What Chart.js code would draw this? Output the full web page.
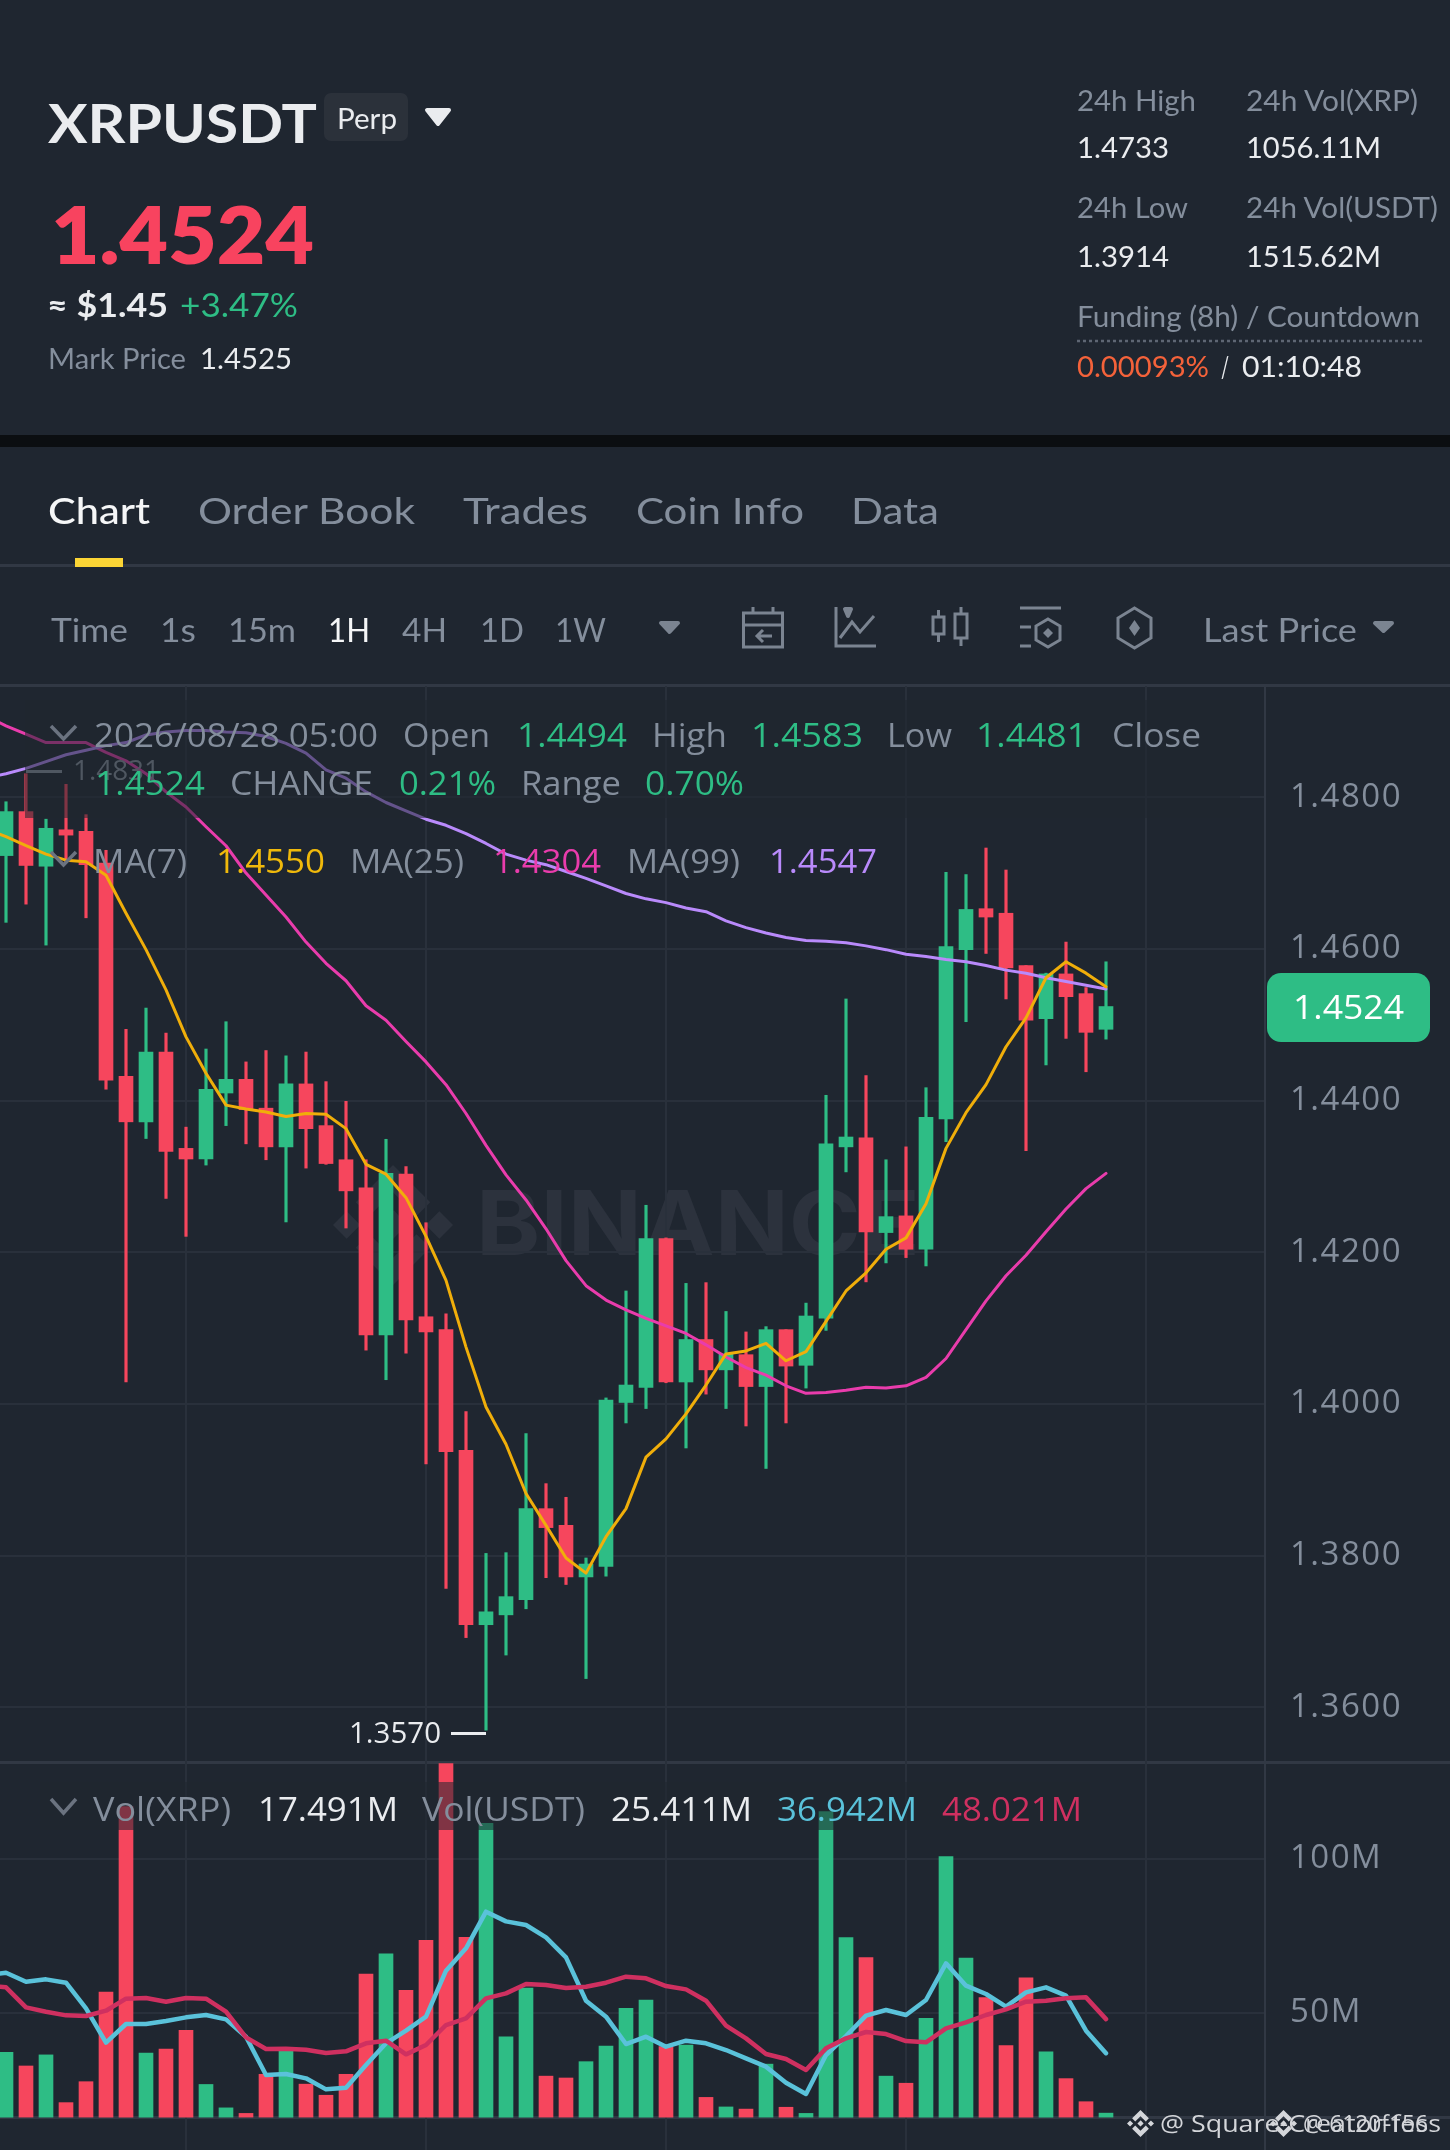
<!DOCTYPE html>
<html>
<head>
<meta charset="utf-8">
<style>
html,body{margin:0;padding:0;background:#1F2630;width:1450px;height:2150px;overflow:hidden}
#under,#over{position:absolute;left:0;top:0;width:1450px;height:2150px}
#over{z-index:5}
#under{z-index:1}
canvas{position:absolute;left:0;z-index:3}
#priceCanvas{top:686px}
#volCanvas{top:1762px}
</style>
<script src="https://cdn.jsdelivr.net/npm/chart.js@4"></script>
</head>
<body>
<svg id="under" viewBox="0 0 1450 2150" xmlns="http://www.w3.org/2000/svg"></svg>
<canvas id="priceCanvas" width="1450" height="1076"></canvas>
<canvas id="volCanvas" width="1450" height="388"></canvas>
<svg id="over" viewBox="0 0 1450 2150" xmlns="http://www.w3.org/2000/svg"></svg>
<script>
const opens = [1.4723,1.4781,1.4709,1.4757,1.4755,1.4713,1.4432,1.4372,1.4464,1.4337,1.4323,1.4410,1.4428,1.4390,1.4339,1.4422,1.4367,1.4322,1.4285,1.4091,1.4303,1.4115,1.4098,1.3939,1.3709,1.3722,1.3742,1.3862,1.3840,1.3772,1.3786,1.4002,1.4022,1.4218,1.4029,1.4085,1.4045,1.4065,1.4023,1.4098,1.4051,1.4113,1.4339,1.4351,1.4226,1.4248,1.4204,1.4376,1.4599,1.4653,1.4647,1.4578,1.4508,1.4567,1.4541,1.4494];
const highs = [1.4794,1.4831,1.4771,1.4817,1.4777,1.4730,1.4494,1.4522,1.4489,1.4365,1.4468,1.4504,1.4451,1.4466,1.4459,1.4464,1.4425,1.4399,1.4322,1.4349,1.4313,1.4239,1.4119,1.3990,1.3803,1.3804,1.3961,1.3895,1.3877,1.3797,1.4008,1.4149,1.4262,1.4219,1.4159,1.4160,1.4122,1.4095,1.4102,1.4098,1.4133,1.4407,1.4534,1.4433,1.4322,1.4339,1.4417,1.4701,1.4698,1.4733,1.4704,1.4578,1.4568,1.4609,1.4549,1.4583];
const lows = [1.4635,1.4659,1.4605,1.4715,1.4641,1.4415,1.4029,1.4350,1.4271,1.4221,1.4315,1.4367,1.4343,1.4322,1.4240,1.4311,1.4316,1.4232,1.4071,1.4032,1.4067,1.3921,1.3757,1.3692,1.3570,1.3669,1.3730,1.3771,1.3762,1.3638,1.3773,1.3975,1.3994,1.4028,1.3942,1.4013,1.3994,1.3971,1.3915,1.3975,1.4021,1.4097,1.4306,1.4161,1.4186,1.4193,1.4182,1.4346,1.4504,1.4594,1.4534,1.4334,1.4447,1.4482,1.4438,1.4481];
const closes = [1.4781,1.4710,1.4759,1.4750,1.4711,1.4427,1.4372,1.4464,1.4333,1.4323,1.4415,1.4428,1.4388,1.4339,1.4422,1.4363,1.4317,1.4281,1.4091,1.4304,1.4111,1.4095,1.3937,1.3709,1.3726,1.3746,1.3862,1.3837,1.3772,1.3789,1.4005,1.4025,1.4218,1.4029,1.4085,1.4045,1.4066,1.4023,1.4098,1.4050,1.4116,1.4343,1.4352,1.4227,1.4247,1.4204,1.4378,1.4603,1.4652,1.4642,1.4575,1.4506,1.4567,1.4537,1.4490,1.4524];
/* moving averages carry one extra leading value, for the candle just left of the picture */
const ma7 = [1.4758,1.4748,1.4736,1.4725,1.4717,1.4715,1.4697,1.4647,1.4599,1.4546,1.4484,1.4436,1.4394,1.4389,1.4385,1.4379,1.4383,1.4382,1.4363,1.4316,1.4303,1.4272,1.4221,1.4163,1.4075,1.3996,1.3947,1.3882,1.3840,1.3797,1.3777,1.3825,1.3862,1.3930,1.3954,1.3987,1.4025,1.4066,1.4070,1.4080,1.4057,1.4069,1.4109,1.4149,1.4173,1.4204,1.4219,1.4264,1.4337,1.4384,1.4421,1.4471,1.4509,1.4562,1.4583,1.4568,1.4550];
const ma25 = [1.4907,1.4894,1.4883,1.4872,1.4872,1.4872,1.4859,1.4848,1.4831,1.4807,1.4787,1.4761,1.4736,1.4700,1.4671,1.4642,1.4609,1.4581,1.4558,1.4525,1.4506,1.4478,1.4451,1.4421,1.4383,1.4341,1.4302,1.4269,1.4231,1.4189,1.4156,1.4137,1.4124,1.4113,1.4103,1.4093,1.4078,1.4062,1.4048,1.4038,1.4024,1.4014,1.4015,1.4018,1.4022,1.4021,1.4024,1.4035,1.4060,1.4098,1.4136,1.4169,1.4196,1.4227,1.4257,1.4284,1.4304];
const ma99 = [1.4825,1.4831,1.4838,1.4847,1.4856,1.4862,1.4868,1.4872,1.4882,1.4886,1.4888,1.4888,1.4886,1.4885,1.4880,1.4871,1.4858,1.4836,1.4825,1.4807,1.4793,1.4782,1.4771,1.4763,1.4752,1.4739,1.4725,1.4717,1.4711,1.4702,1.4693,1.4683,1.4673,1.4666,1.4661,1.4654,1.4649,1.4637,1.4628,1.4621,1.4615,1.4611,1.4610,1.4608,1.4604,1.4599,1.4593,1.4590,1.4586,1.4583,1.4578,1.4572,1.4568,1.4562,1.4557,1.4552,1.4547];
const volumes = [37.2,32.8,36.4,20.9,27.7,56.8,117,37.0,38.3,44.4,26.8,19.2,17.4,30.1,38.0,26.9,23.3,30.1,62.6,69.2,57.4,73.6,131,74.6,111.6,42.3,58.1,29.5,28.9,34.2,39.3,51.5,54.2,39.1,39.6,22.6,19.5,18.8,33.4,19.4,17.4,115.4,74.5,68.0,29.5,27.2,48.3,100.8,67.8,55.0,39.4,61.4,37.4,28.7,21.2,17.491];
const volMaShort = [62.3,63.09,60.17,60.93,59.85,51.51,40.37,46.43,46.43,47.40,48.59,49.35,47.94,42.31,29.87,30.19,28.79,25.21,25.75,33.11,40.15,44.26,48.81,63.74,70.99,82.90,79.76,78.57,74.56,68.07,54.0,48.81,39.93,42.31,39.07,41.01,40.15,37.98,35.28,32.57,27.38,23.7,36.36,42.53,49.13,50.97,49.35,54.22,66.12,58.87,56.17,52.05,56.71,58.33,55.62,44.26,36.942];
const volMaLong = [59.09,58.33,51.84,50.43,49.24,49.02,50.75,54.65,54.87,53.68,54.87,54.65,50.43,42.1,38.31,38.42,38.09,37.01,37.55,40.15,41.01,36.58,39.61,46.1,48.27,54.76,56.38,59.41,59.09,58.11,58.55,59.85,61.79,61.25,58.76,57.68,54.0,45.88,41.77,36.69,35.06,31.49,38.53,41.77,43.83,43.18,40.91,40.47,45.02,46.97,49.35,51.19,53.68,54.0,54.76,55.08,48.021];
const priceTicks = [1.36,1.38,1.40,1.42,1.44,1.46,1.48];
const volumeTicks = [50,100];
const timeGridCandles = [9,21,33,45,57];

const UP='#2EBD85', DOWN='#F6465D', GRID='#29303B', RULE='#313844', GREY='#848E9C', WHITE='#EAECEF';
const isUp = i => closes[i] >= opens[i];
const candleColor = c => isUp(c.dataIndex) ? UP : DOWN;
const indexed = a => a.map((y,i)=>({x:i,y}));
const shifted = a => a.map((y,i)=>({x:i-1,y}));
const line = (data,color,width,order) => ({type:'line',data:shifted(data),borderColor:color,borderWidth:width,pointRadius:0,tension:0,order,borderJoinStyle:'round',borderCapStyle:'round'});
const spacing = {id:'spacing',beforeDraw(c){c.ctx.letterSpacing='1.5px';}};
const xAxis = {type:'linear',offset:false,min:-0.3,max:62.95,
  afterBuildTicks(s){s.ticks=timeGridCandles.map(value=>({value}));},
  ticks:{display:false},border:{display:false},
  grid:{color:GRID,lineWidth:2,drawTicks:false,offset:false}};
const yAxis = (min,max,ticks,fmt) => ({type:'linear',position:'right',min,max,
  afterBuildTicks(s){s.ticks=ticks.map(value=>({value}));},
  afterFit(s){s.width=185;s.paddingTop=0;s.paddingBottom=0;},
  ticks:{padding:25,color:GREY,font:{family:'Open Sans',size:33},callback:fmt,autoSkip:false},
  border:{display:true,color:RULE,width:2},
  grid:{color:GRID,lineWidth:2,drawTicks:false}});
const base = {responsive:false,animation:false,events:[],devicePixelRatio:1,
  layout:{padding:0},plugins:{legend:{display:false},tooltip:{enabled:false}}};

new Chart(document.getElementById('priceCanvas'),{
  plugins:[spacing],
  data:{datasets:[
    {type:'bar',data:opens.map((o,i)=>({x:i,y:[lows[i],highs[i]]})),backgroundColor:candleColor,barThickness:2.5,grouped:false,order:3},
    {type:'bar',data:opens.map((o,i)=>({x:i,y:[o,closes[i]]})),backgroundColor:candleColor,barThickness:14,grouped:false,order:2},
    line(ma99,'#B98AFB',3,1),
    line(ma25,'#E93CAC',3,1),
    line(ma7,'#F0AE0A',3,0)
  ]},
  options:{...base,scales:{x:xAxis,y:yAxis(1.3528,1.49466,priceTicks,v=>Number(v).toFixed(4))}}
});
new Chart(document.getElementById('volCanvas'),{
  plugins:[spacing],
  data:{datasets:[
    {type:'bar',data:indexed(volumes),base:16.2,backgroundColor:candleColor,barThickness:14,grouped:false,order:2},
    line(volMaLong,'#CF3060',4.5,0),
    line(volMaShort,'#5AC2DA',4.5,1)
  ]},
  options:{...base,scales:{x:xAxis,y:yAxis(5.52,131.5,volumeTicks,v=>v+'M')}}
});

/* page furniture */
const NS='http://www.w3.org/2000/svg';
const under=document.getElementById('under'), over=document.getElementById('over');
function el(p,n,a,t){const e=document.createElementNS(NS,n);for(const k in a)e.setAttribute(k,a[k]);if(t!==undefined)e.textContent=t;p.appendChild(e);return e;}
const H='Lato', C='Open Sans';
function T(p,t,x1,x2,y,size,fill,o={}){
  return el(p,'text',{x:x1,y,'font-size':size,fill,'font-family':o.f||C,'font-weight':o.w||400,textLength:x2-x1,lengthAdjust:'spacingAndGlyphs',opacity:o.op||1},t);
}
function R(p,x,y,w,h,fill,rx){return el(p,'rect',{x,y,width:w,height:h,fill,rx:rx||0});}
function tri(p,x1,x2,y1,y2,fill){el(p,'polygon',{points:`${x1+2},${y1+2} ${x2-2},${y1+2} ${(x1+x2)/2},${y2-2}`,fill,stroke:fill,'stroke-width':4,'stroke-linejoin':'round'});}
function chev(p,x1,x2,y1,y2){el(p,'polyline',{points:`${x1},${y1} ${(x1+x2)/2},${y2} ${x2},${y1}`,fill:'none',stroke:'#6B7380','stroke-width':3.5});}
const LOGO='M38.171 53.203L62.759 28.616l24.601 24.601 14.307-14.307L62.759 0 23.864 38.896zM0 62.759l14.307-14.307 14.307 14.307-14.307 14.307zM38.171 72.315l24.588 24.587 24.6-24.6 14.315 14.3-.007.008L62.759 125.52 23.864 86.625l-.02-.02zM96.902 62.766l14.307-14.307 14.307 14.307-14.307 14.307zM77.27 62.752h.006v.006L62.759 77.275 48.25 62.766l-.025-.025.025-.024 2.542-2.542 1.233-1.234 11.734-11.634z';
function logo(p,x,y,size,fill){el(p,'path',{d:LOGO,fill,transform:`translate(${x} ${y}) scale(${size/125.5})`});}

/* under the chart */
R(under,0,435,1450,12,'#0B0E11');
R(under,0,564,1450,3,RULE);
R(under,0,684,1450,3,RULE);
R(under,0,1761,1450,3,RULE);
R(under,0,2116,1450,3,RULE);
logo(under,333,1165,120,'#2C323D');
T(under,'BINANCE',476,920,1255,89,'#2C323D',{f:'Inter',w:700});

/* header */
T(over,'XRPUSDT',48,317,143,54,WHITE,{f:H,w:700});
R(over,324,93,84,48,'#2B313A',7);
T(over,'Perp',337,397,129,29,WHITE,{f:H});
tri(over,425,451,108,126,WHITE);
T(over,'1.4524',51,314,264,80,'#F8435F',{f:H,w:800});
T(over,'≈ $1.45',47,168,317,33,WHITE,{f:H,w:700});
T(over,'+3.47%',180,298,317,33,UP,{f:H});
T(over,'Mark Price',48,186,369,28,GREY,{f:H});
T(over,'1.4525',200,292,369,28,WHITE,{f:H});
T(over,'24h High',1077,1196,111,29,GREY,{f:H});
T(over,'24h Vol(XRP)',1246,1418,111,29,GREY,{f:H});
T(over,'1.4733',1077,1169,158,29,WHITE,{f:H});
T(over,'1056.11M',1246,1381,158,29,WHITE,{f:H});
T(over,'24h Low',1077,1188,218,29,GREY,{f:H});
T(over,'24h Vol(USDT)',1246,1438,218,29,GREY,{f:H});
T(over,'1.3914',1077,1169,267,29,WHITE,{f:H});
T(over,'1515.62M',1246,1381,267,29,WHITE,{f:H});
T(over,'Funding (8h) / Countdown',1077,1420,327,29,GREY,{f:H});
el(over,'line',{x1:1077,x2:1422,y1:341,y2:341,stroke:'#5E6673','stroke-width':2.5,'stroke-dasharray':'3 3'});
T(over,'0.00093%',1077,1209,377,29,'#F4623A',{f:H});
T(over,'/',1221,1229,377,29,WHITE,{f:H});
T(over,'01:10:48',1242,1362,377,29,WHITE,{f:H});

/* tabs */
T(over,'Chart',48,150,524,37,'#F5F6F7',{f:H,w:500});
T(over,'Order Book',198,415,524,37,GREY,{f:H});
T(over,'Trades',463,588,524,37,GREY,{f:H});
T(over,'Coin Info',636,804,524,37,GREY,{f:H});
T(over,'Data',851,939,524,37,GREY,{f:H});
R(over,75,558,48,9,'#FCD535');

/* toolbar */
T(over,'Time',51,128,642,32,GREY,{f:H});
T(over,'1s',160,196,642,32,GREY,{f:H});
T(over,'15m',228,296,642,32,GREY,{f:H});
T(over,'1H',328,370,642,32,'#F5F6F7',{f:H});
T(over,'4H',402,447,642,32,GREY,{f:H});
T(over,'1D',480,524,642,32,GREY,{f:H});
T(over,'1W',555,606,642,32,GREY,{f:H});
tri(over,659,680,621,634,'#7B8491');
T(over,'Last Price',1203,1357,642,32,GREY,{f:H});
tri(over,1373,1394,621,633,'#7B8491');
const IC={fill:'none',stroke:'#7B8491','stroke-width':3};
/* calendar */
el(over,'rect',{x:743.5,y:613,width:39,height:34,...IC});
el(over,'path',{d:'M743 625H784M753 607V613M773 607V613M772 636H757M763 630L757 636L763 642',...IC});
/* chart type */
el(over,'path',{d:'M836 607V646H876M840 638L852 622L860 632L874 616',...IC});
tri(over,843,853,607,618,'#7B8491');
/* candles */
el(over,'rect',{x:933,y:617,width:11,height:17,...IC});
el(over,'rect',{x:955,y:614,width:12,height:24,...IC});
el(over,'path',{d:'M938.5 610V617M938.5 634V642M961 607V614M961 638V646',...IC});
/* settings */
el(over,'path',{d:'M1020 608H1061M1020 627H1031M1020 646H1031',...IC});
el(over,'polygon',{points:'1048,619 1060,626 1060,640 1048,647 1036,640 1036,626',...IC});
el(over,'polygon',{points:'1048,628 1053,633 1048,638 1043,633',fill:'#7B8491'});
/* hexagon */
el(over,'polygon',{points:'1134.5,608 1151,618 1151,638 1134.5,648 1118,638 1118,618',...IC});
el(over,'polygon',{points:'1134.5,620 1140,628 1134.5,636 1129,628',fill:'#7B8491'});

/* extremes and legends: the high label lies beneath the legend veil */
R(over,26,770,36,3,'#8A929D');
T(over,'1.4831',73,160,780,27,'#8A929D');
R(over,25,700,1215,118,'rgba(31,38,48,0.55)');
R(over,40,1782,1050,48,'rgba(31,38,48,0.55)');
T(over,'1.3570',349,441,1743,29,WHITE);
R(over,451,1732,35,3,WHITE);
const LG=[
 ['2026/08/28 05:00',94,378,747,GREY],['Open',403,490,747,GREY],['1.4494',517,627,747,UP],['High',652,727,747,GREY],['1.4583',751,863,747,UP],['Low',887,952,747,GREY],['1.4481',976,1087,747,UP],['Close',1112,1201,747,GREY],
 ['1.4524',95,205,795,UP],['CHANGE',230,373,795,GREY],['0.21%',399,496,795,UP],['Range',521,621,795,GREY],['0.70%',645,744,795,UP],
 ['MA(7)',93,187,873,GREY],['1.4550',216,325,873,'#F0B90B'],['MA(25)',350,464,873,GREY],['1.4304',493,601,873,'#E93CAC'],['MA(99)',627,740,873,GREY],['1.4547',769,877,873,'#B98AFB'],
 ['Vol(XRP)',93,231,1821,GREY],['17.491M',258,398,1821,WHITE],['Vol(USDT)',422,585,1821,GREY],['25.411M',611,752,1821,WHITE],['36.942M',777,917,1821,'#5AC2DA'],['48.021M',942,1082,1821,'#CF3060']
];
LG.forEach(a=>T(over,a[0],a[1],a[2],a[3],32,a[4]));
chev(over,51,76,726,739);chev(over,51,76,852,865);chev(over,51,76,1799,1813);

/* last price tag */
R(over,1267,973,163,69,UP,14);
T(over,'1.4524',1293,1404,1019,33,'#FFFFFF');

/* footer marks */
logo(over,1127,2110,27,'#D4D6DA');
T(over,'@ Square-Creator-fess',1160,1441,2132,24,'#D4D6DA');
logo(over,1270,2110,27,'#D4D6DA');
T(over,'@ 6120f156',1303,1428,2132,24,'#D4D6DA');
</script>
</body>
</html>
